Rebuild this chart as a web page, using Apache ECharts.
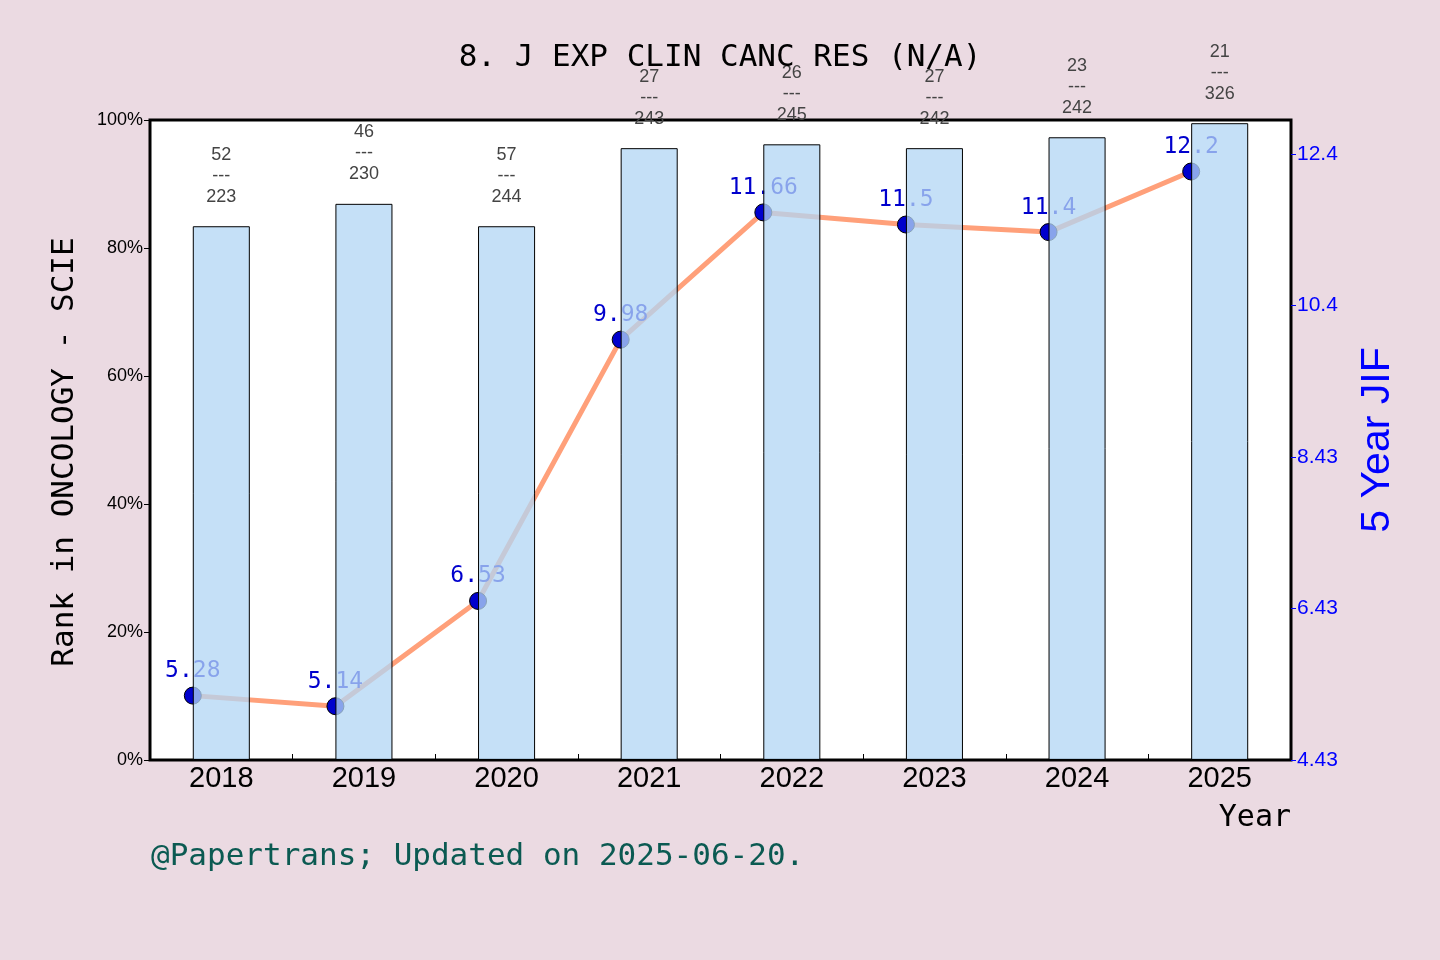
<!DOCTYPE html>
<html>
<head>
<meta charset="utf-8">
<title>J EXP CLIN CANC RES</title>
<script src="https://cdn.jsdelivr.net/npm/echarts@6/dist/echarts.min.js"></script>
<style>
  html, body { margin: 0; padding: 0; background: #EBDAE2; }
  #chart { width: 1440px; height: 960px; }
</style>
</head>
<body>
<div id="chart"></div>
<script>
// 年份
const years = ['2018', '2019', '2020', '2021', '2022', '2023', '2024', '2025']
// 分区排名百分比 (柱)
const rankPct = [83.4, 86.9, 83.4, 95.6, 96.2, 95.6, 97.3, 99.5]
// 排名 / 总数
const ranks = [52, 46, 57, 27, 26, 27, 23, 21]
const totals = [223, 230, 244, 243, 245, 242, 242, 326]
// 5年影响因子 (折线)
const jif5 = [5.28, 5.14, 6.53, 9.98, 11.66, 11.5, 11.4, 12.2]

const mono = 'DejaVu Sans Mono'
const sans = 'Liberation Sans'

// 折线整体左移半个柱宽
const shift = 28.5

const chart = echarts.init(document.getElementById('chart'))
chart.setOption({
  backgroundColor: '#EBDAE2',
  animation: false,
  title: [
    {
      text: '8. J EXP CLIN CANC RES (N/A)',
      left: 'center',
      top: 37,
      textStyle: { fontFamily: mono, fontSize: 31, fontWeight: 'normal', color: '#000' }
    },
    {
      text: '@Papertrans; Updated on 2025-06-20.',
      left: 146,
      top: 836,
      textStyle: { fontFamily: mono, fontSize: 31, fontWeight: 'normal', color: '#0B5A52' }
    }
  ],
  grid: [
    {
      left: 150, right: 149, top: 120, bottom: 200,
      show: true, backgroundColor: '#fff', borderColor: '#000', borderWidth: 3
    },
    {
      left: 150 - shift, right: 149 + shift, top: 120, bottom: 200,
      show: false
    }
  ],
  xAxis: [
    {
      type: 'category',
      gridIndex: 0,
      data: years,
      name: 'Year',
      nameLocation: 'end',
      nameGap: 0,
      nameTextStyle: {
        fontFamily: mono, fontSize: 30, color: '#000',
        align: 'right', verticalAlign: 'top', padding: [43, 0, 0, 0]
      },
      axisLine: { show: false },
      axisTick: { show: true, inside: true, length: 6, lineStyle: { color: '#000', width: 1 } },
      axisLabel: { fontFamily: sans, fontSize: 29, color: '#000', margin: 4 }
    },
    {
      type: 'category',
      gridIndex: 1,
      data: years,
      show: false
    }
  ],
  yAxis: [
    {
      type: 'value',
      gridIndex: 0,
      min: 0,
      max: 100,
      interval: 20,
      name: 'Rank in ONCOLOGY - SCIE',
      nameLocation: 'middle',
      nameGap: 70,
      nameTextStyle: { fontFamily: mono, fontSize: 31, color: '#000', padding: [0, 24, 0, 0] },
      axisLine: { show: false },
      axisTick: { show: true, length: 6, lineStyle: { color: '#000', width: 1 } },
      splitLine: { show: false },
      axisLabel: { fontFamily: sans, fontSize: 18, color: '#000', margin: 7, formatter: '{value}%' }
    },
    {
      type: 'value',
      gridIndex: 1,
      position: 'right',
      offset: shift,
      min: 4.43,
      max: 12.88,
      interval: 2,
      name: '5 Year JIF',
      nameLocation: 'middle',
      nameRotate: 90,
      nameGap: 66,
      nameTextStyle: { fontFamily: sans, fontSize: 41, color: '#0000FF' },
      axisLine: { show: false },
      axisTick: { show: true, length: 5, lineStyle: { color: '#0000FF', width: 1 } },
      splitLine: { show: false },
      axisLabel: {
        fontFamily: sans, fontSize: 21, color: '#0000FF', margin: 6,
        showMaxLabel: false,
        formatter: v => String(Number(v.toPrecision(3)))
      }
    }
  ],
  series: [
    {
      name: 'JIF',
      type: 'line',
      xAxisIndex: 1,
      yAxisIndex: 1,
      z: 2,
      data: jif5,
      symbol: 'circle',
      symbolSize: 17,
      lineStyle: { color: '#FFA07A', width: 5 },
      itemStyle: { color: '#0000CD', borderColor: '#000', borderWidth: 1 },
      label: {
        show: true,
        position: 'top',
        distance: 4,
        fontFamily: mono,
        fontSize: 23,
        color: '#0000CD'
      }
    },
    {
      name: 'Rank',
      type: 'bar',
      xAxisIndex: 0,
      yAxisIndex: 0,
      z: 3,
      data: rankPct,
      barWidth: '40%',
      itemStyle: { color: 'rgba(179,214,245,0.76)', borderColor: '#000', borderWidth: 1 },
      label: {
        show: true,
        position: 'top',
        distance: 19,
        fontFamily: sans,
        fontSize: 18,
        lineHeight: 21,
        color: '#444',
        formatter: p => ranks[p.dataIndex] + '\n---\n' + totals[p.dataIndex]
      }
    }
  ]
})
</script>
</body>
</html>
